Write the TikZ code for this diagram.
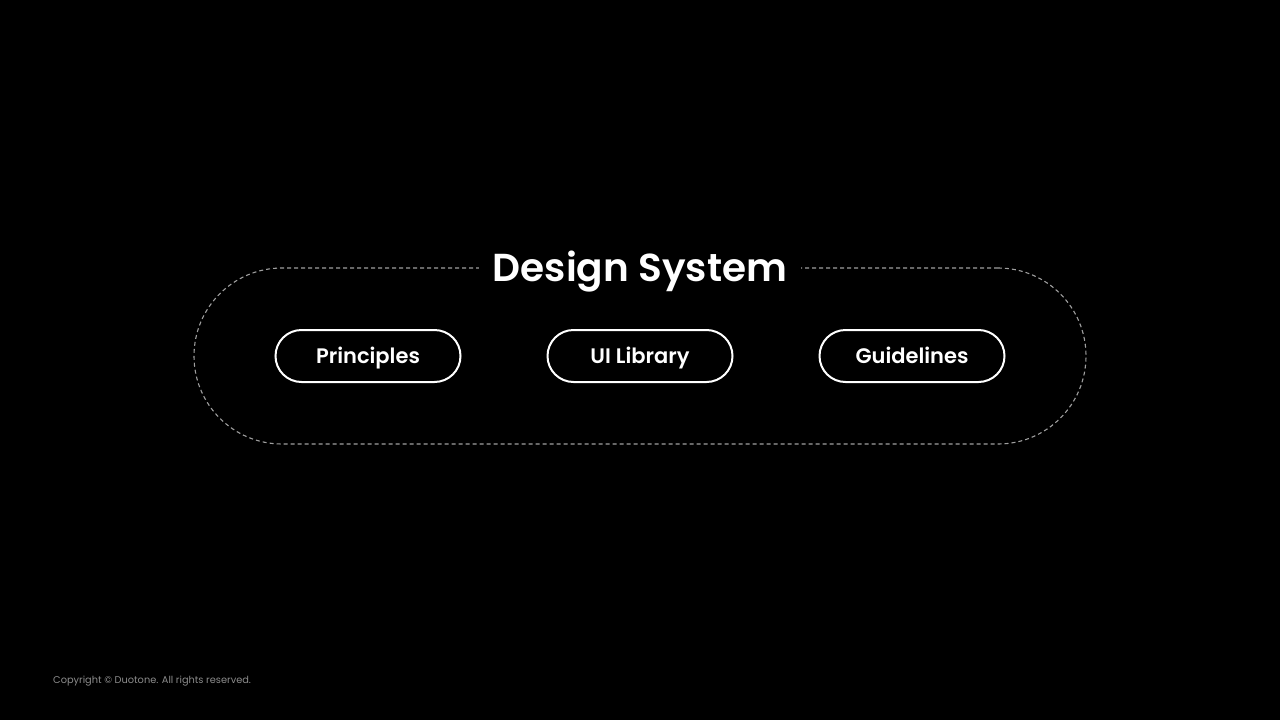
\documentclass[tikz,border=0pt]{standalone}
\usepackage{fontspec}
\setmainfont{Poppins}[BoldFont = {Poppins SemiBold}]
\usepackage{tikz}
\usetikzlibrary{positioning}

\tikzset{
	pill/.style = {draw = white, line width = 2pt, rounded corners = 26pt, minimum width = 185pt, minimum height = 52pt, text height = 15pt, text depth = 0pt, text = white, font = \fontsize{21}{25}\selectfont\bfseries},
	frame/.style = {draw = gray!75, dashed, dash pattern = on 4pt off 3pt, line width = 1.1pt, rounded corners = 88pt, minimum width = 892pt, minimum height = 176pt}
}

\begin{document}
\begin{tikzpicture}[x = 1pt, y = -1pt]
			\def\gap{85};
			
			\fill [black] (0,0) rectangle (1280,720);
			\useasboundingbox (0,0) rectangle (1280,720);
			
			\node [frame] (sys) at (640,356) {};
			\node [anchor = base, yshift = -14pt, fill = black, text = white, inner xsep = 14pt, font = \fontsize{39}{45}\selectfont\bfseries] (title) at (sys.north) {Design System};
			
			\begin{scope}
				\node [pill] (ui) at (640,356) {UI Library};
				\node [pill, left = \gap pt of ui] (pr) {Principles};
				\node [pill, right = \gap pt of ui] (gl) {Guidelines};
			\end{scope}
			
			\node [anchor = west, text = gray!90, font = \fontsize{9.8}{11}\selectfont, inner sep = 0pt] (copy) at (53,681) {Copyright © Duotone. All rights reserved.};
			
		\end{tikzpicture}
\end{document}
